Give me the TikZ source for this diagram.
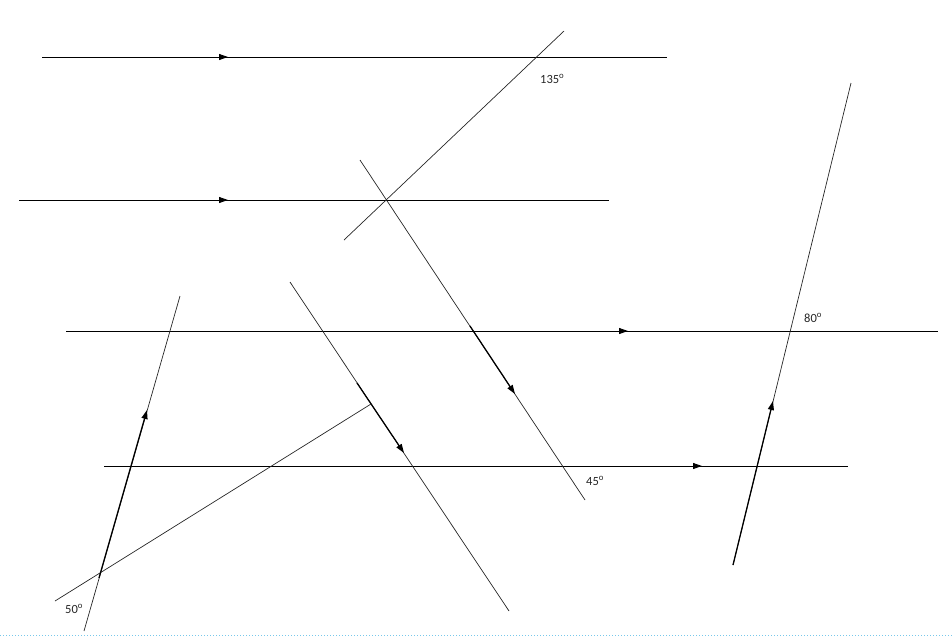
\documentclass[tikz,border=0pt]{standalone}
\usepackage{fontspec}
\setmainfont{Carlito}
\usetikzlibrary{arrows.meta}
\definecolor{edgeblue}{RGB}{120,200,235}
\begin{document}
\begin{tikzpicture}[x=1pt,y=-1pt,
  hline/.style={line width=0.9pt,black},
  dline/.style={line width=0.7pt,black!85},
  arrowseg/.style={line width=0.9pt,black,-{Triangle[length=9pt,width=6pt]}},
  thickseg/.style={line width=1.25pt,black,-{Triangle[length=9pt,width=6pt]}},
  lbl/.style={font=\fontsize{12.5}{14}\selectfont,inner sep=0pt,text=black!85}]
\useasboundingbox (0,0) rectangle (952,638);
% horizontal lines
\coordinate (h1a) at (42,57);  \coordinate (h1b) at (667,57);
\coordinate (h2a) at (19,200); \coordinate (h2b) at (609,200);
\coordinate (h3a) at (66,331); \coordinate (h3b) at (938,331);
\coordinate (h4a) at (104,466);\coordinate (h4b) at (848,466);
\draw[hline] (h1a) -- (h1b);
\draw[hline] (h2a) -- (h2b);
\draw[hline] (h3a) -- (h3b);
\draw[hline] (h4a) -- (h4b);
\coordinate (m1) at (228,57);  \draw[arrowseg] (200,57) -- (m1);
\coordinate (m2) at (228,200); \draw[arrowseg] (200,200) -- (m2);
\coordinate (m3) at (628,331); \draw[arrowseg] (600,331) -- (m3);
\coordinate (m4) at (702,466); \draw[arrowseg] (674,466) -- (m4);
% diagonals
\coordinate (d1a) at (344,240); \coordinate (d1b) at (564,31);
\draw[dline] (d1a) -- (d1b);
\coordinate (d2a) at (360,160); \coordinate (d2b) at (585,500);
\draw[dline] (d2a) -- (d2b);
\coordinate (d2s) at (470,326); \coordinate (d2t) at (515,394);
\draw[thickseg] (d2s) -- (d2t);
\coordinate (d3a) at (290,282); \coordinate (d3b) at (509,611);
\draw[dline] (d3a) -- (d3b);
\coordinate (d3s) at (357,383); \coordinate (d3t) at (404,453);
\draw[thickseg] (d3s) -- (d3t);
\coordinate (pa) at (55,601); \coordinate (pb) at (371,404);
\draw[dline] (pa) -- (pb);
\coordinate (l1a) at (84,631); \coordinate (l1b) at (180,296);
\draw[dline] (l1a) -- (l1b);
\coordinate (l1s) at (99,578); \coordinate (l1t) at (147,410);
\draw[thickseg] (l1s) -- (l1t);
\coordinate (l2a) at (733,565); \coordinate (l2b) at (851,83);
\draw[dline] (l2a) -- (l2b);
\coordinate (l2t) at (773,401);
\draw[thickseg] (l2a) -- (l2t);
% labels
\node[lbl,anchor=west] (t135) at (540,79) {135\textsuperscript{o}};
\node[lbl,anchor=west] (t45) at (586,481) {45\textsuperscript{o}};
\node[lbl,anchor=west] (t80) at (804,318) {80\textsuperscript{o}};
\node[lbl,anchor=west] (t50) at (65,609) {50\textsuperscript{o}};
% page edge
\draw[edgeblue,line width=1pt,dotted] (0,635) -- (952,635);
\end{tikzpicture}
\end{document}
